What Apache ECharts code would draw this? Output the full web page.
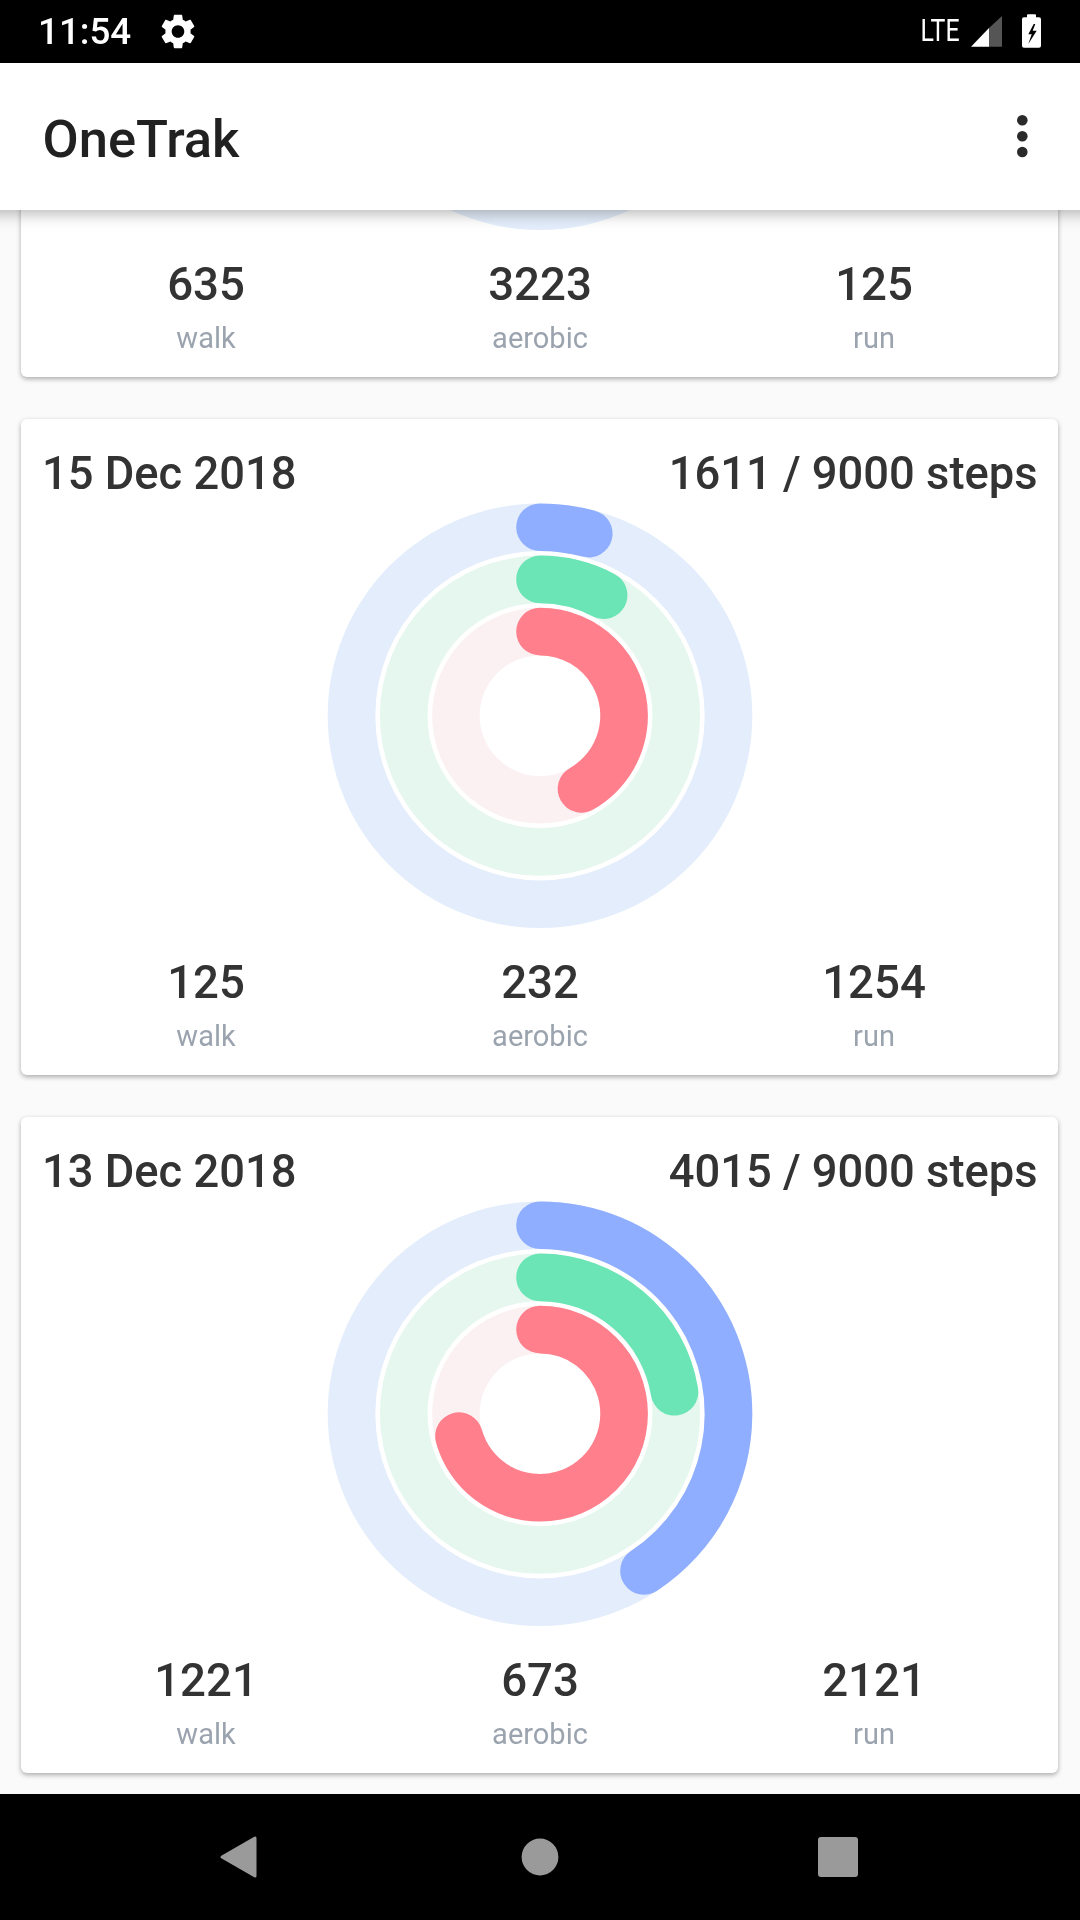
<!DOCTYPE html>
<html>
<head>
<meta charset="utf-8">
<title>OneTrak</title>
<style>html,body{margin:0;padding:0;background:#fafafa}#chart{width:1080px;height:1920px}</style>
<script src="https://cdn.jsdelivr.net/npm/echarts@6/dist/echarts.min.js"></script>
</head>
<body>
<div id="chart"></div>
<script>
// ---- data ----
const appTitle = 'OneTrak';
const clock = '11:54';
const network = 'LTE';
const dates = [null, '15 Dec 2018', '13 Dec 2018'];
const stepTotals = [null, 1611, 4015];
const stepGoal = 9000;
const ringGoal = 3000;
const walk = [635, 125, 1221];
const aerobic = [3223, 232, 673];
const run = [125, 1254, 2121];
const labels = ['walk', 'aerobic', 'run'];
const rings = ['run', 'aerobic', 'walk'];          // inner to outer
const barColors = ['#FF7F8C', '#6BE5B5', '#8FAEFF'];
const trackColors = ['#FBF1F2', '#E5F7EF', '#E3EDFB'];

// ---- layout ----
const FONT = 'Roboto';
const cardTop = [-279, 419, 1117];
const cardHeight = 656;
const cx = 540;
const columnX = [206, 540, 874];

const GEAR = 'M19.14 12.94c.04-.3.06-.61.06-.94 0-.32-.02-.64-.07-.94l2.03-1.58c.18-.14.23-.41.12-.61l-1.92-3.32c-.12-.22-.37-.29-.59-.22l-2.39.96c-.5-.38-1.03-.7-1.62-.94l-.36-2.54c-.04-.24-.24-.41-.48-.41h-3.84c-.24 0-.43.17-.47.41l-.36 2.54c-.59.24-1.13.57-1.62.94l-2.39-.96c-.22-.08-.47 0-.59.22L2.74 8.87c-.12.21-.08.47.12.61l2.03 1.58c-.05.3-.09.63-.09.94s.02.64.07.94l-2.03 1.58c-.18.14-.23.41-.12.61l1.92 3.32c.12.22.37.29.59.22l2.39-.96c.5.38 1.03.7 1.62.94l.36 2.54c.05.24.24.41.48.41h3.84c.24 0 .44-.17.47-.41l.36-2.54c.59-.24 1.13-.56 1.62-.94l2.39.96c.22.08.47 0 .59-.22l1.92-3.32c.12-.22.07-.47-.12-.61l-2.01-1.58zM12 15.6c-1.98 0-3.6-1.62-3.6-3.6s1.62-3.6 3.6-3.6 3.6 1.62 3.6 3.6-1.62 3.6-3.6 3.6z';
echarts.graphic.registerShape('gearIcon', echarts.graphic.extendPath(GEAR, {}));

const chart = echarts.init(document.getElementById('chart'), null, { width: 1080, height: 1920 });
const graphic = [];
const text = (s, x, y, size, color, weight, align, z, extra) => graphic.push(Object.assign({
  type: 'text', x, y, z: z || 1, silent: true,
  style: { text: String(s), fill: color, fontFamily: FONT, fontSize: size, fontWeight: weight || 400,
           align: align || 'left', verticalAlign: 'middle' }
}, extra || {}));
const shape = (type, sh, fill, z, extra) => graphic.push(Object.assign({
  type, shape: sh, z, silent: true, style: { fill }
}, extra || {}));

// cards: each card has one polar system for the pale tracks and one for the values
const polar = [], angleAxis = [], radiusAxis = [], series = [];
const addPolar = (top) => {
  const idx = polar.length;
  polar.push({ center: [cx, top + 296.7], radius: [58, 214.6] });
  angleAxis.push({ polarIndex: idx, type: 'value', min: 0, max: ringGoal, startAngle: 90, show: false });
  radiusAxis.push({ polarIndex: idx, type: 'category', data: rings, show: false });
  return idx;
};
cardTop.forEach((top, i) => {
  graphic.push({ type: 'rect', z: 0, silent: true, shape: { x: 21, y: top, width: 1037, height: cardHeight, r: 6 },
    style: { fill: '#fff', shadowBlur: 5, shadowOffsetY: 2, shadowColor: 'rgba(0,0,0,0.32)' } });
  if (dates[i]) {
    text(dates[i], 42, top + 58.5, 45.3, '#333333', 500);
    text(stepTotals[i] + ' / ' + stepGoal + ' steps', 1037.5, top + 58.5, 45.3, '#333333', 500, 'right');
  }
  [walk, aerobic, run].forEach((arr, k) => {
    text(arr[i], columnX[k], top + 567.5, 45.6, '#333333', 500, 'center');
    text(labels[k], columnX[k], top + 619.5, 29, '#9AA3AE', 400, 'center');
  });
  const values = [run[i], aerobic[i], walk[i]];
  series.push({
    type: 'bar', coordinateSystem: 'polar', polarIndex: addPolar(top), barWidth: 47.6, z: 2, silent: true,
    data: rings.map((r, k) => ({ value: ringGoal, itemStyle: { color: trackColors[k] } }))
  });
  series.push({
    type: 'bar', coordinateSystem: 'polar', polarIndex: addPolar(top), barWidth: 47.6, z: 3, silent: true,
    roundCap: true,
    data: values.map((v, k) => ({ value: v, itemStyle: { color: barColors[k] } }))
  });
});

// app bar
graphic.push({ type: 'rect', z: 10, silent: true, shape: { x: -20, y: 63, width: 1120, height: 147 },
  style: { fill: '#fff', shadowBlur: 14, shadowOffsetY: 4, shadowColor: 'rgba(0,0,0,0.28)' } });
text(appTitle, 42.5, 144, 52.5, '#212121', 500, 'left', 11);
[120.3, 136.3, 152].forEach(y => shape('circle', { cx: 1022.3, cy: y, r: 5.3 }, '#2A2A2A', 11));

// status bar
shape('rect', { x: 0, y: 0, width: 1080, height: 63 }, '#000', 12);
text(clock, 38, 35, 36.75, '#fff', 500, 'left', 13);
graphic.push({ type: 'gearIcon', z: 13, silent: true, x: 157, y: 10.5, scaleX: 1.75, scaleY: 1.75,
  shape: {}, style: { fill: '#fff' } });
text(network, 920.5, 33, 31.5, '#fff', 400, 'left', 13, { scaleX: 0.79 });
shape('polygon', { points: [[989, 28], [1002, 16], [1002, 46.7], [989, 46.7]] }, '#555555', 13);
shape('polygon', { points: [[971, 46.7], [989, 46.7], [989, 28]] }, '#fff', 13);
shape('rect', { x: 1027, y: 14.3, width: 9, height: 5, r: 1 }, '#fff', 13);
shape('rect', { x: 1022, y: 17.3, width: 19, height: 30.4, r: 2 }, '#fff', 13);
shape('polygon', { points: [[1033.7, 24], [1028.3, 34.3], [1031.7, 34.3], [1028.3, 44], [1036.7, 30.7], [1032.7, 30.7], [1035.3, 24]] }, '#000', 14);

// navigation bar
shape('rect', { x: 0, y: 1794, width: 1080, height: 126 }, '#000', 12);
graphic.push({ type: 'polygon', z: 13, silent: true, shape: { points: [[222, 1857], [255, 1838], [255, 1876]] },
  style: { fill: '#9A9A9A', stroke: '#9A9A9A', lineWidth: 3, lineJoin: 'round' } });
shape('circle', { cx: 540, cy: 1857, r: 18.4 }, '#9A9A9A', 13);
shape('rect', { x: 818, y: 1837, width: 40, height: 40, r: 3 }, '#9A9A9A', 13);

chart.setOption({
  animation: false,
  backgroundColor: '#FAFAFA',
  polar, angleAxis, radiusAxis, series,
  graphic: { elements: graphic }
});
</script>
</body>
</html>
